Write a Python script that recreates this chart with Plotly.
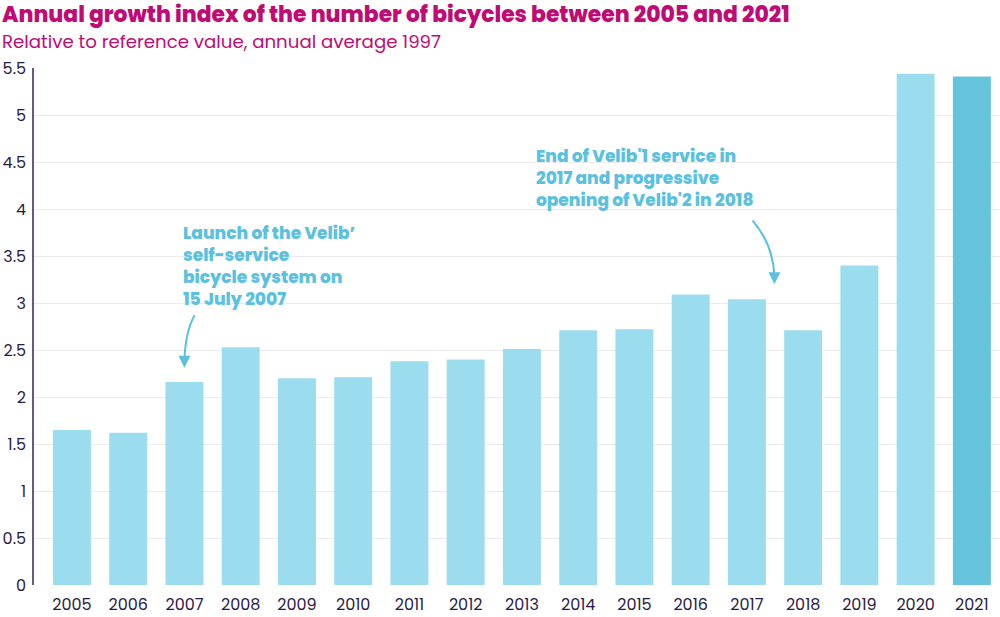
import plotly.graph_objects as go

years = list(range(2005, 2022))
values = [1.65, 1.62, 2.16, 2.53, 2.20, 2.21, 2.38, 2.40, 2.51, 2.71, 2.72, 3.09, 3.04, 2.71, 3.40, 5.44, 5.41]
bar_colors = ["#9bddef"] * 16 + ["#66c3dc"]
y_ticks = [0, 0.5, 1, 1.5, 2, 2.5, 3, 3.5, 4, 4.5, 5, 5.5]
y_ticklabels = ["0", "0.5", "1", "1.5", "2", "2.5", "3", "3.5", "4", "4.5", "5", "5.5"]

TITLE = "Annual growth index of the number of bicycles between 2005 and 2021"
SUBTITLE = "Relative to reference value, annual average 1997"
NOTE1 = "Launch of the Velib’<br>self-service<br>bicycle system on<br>15 July 2007"
NOTE2 = "End of Velib'1 service in<br>2017 and progressive<br>opening of Velib'2 in 2018"

FONT = "Poppins, Inter, sans-serif"
MAGENTA = "#bf0b73"
CYAN = "#5cc1df"
DARK = "#2b1a45"

fig = go.Figure()
fig.add_trace(go.Bar(x=years, y=values, marker=dict(color=bar_colors, line=dict(width=0)),
                     width=0.675, hoverinfo="x+y"))

fig.update_layout(
    width=1000, height=617,
    margin=dict(l=34, r=0, t=68, b=32),
    plot_bgcolor="white", paper_bgcolor="white",
    showlegend=False,
    font=dict(family=FONT, color=DARK, size=16),
    xaxis=dict(range=[2004.325, 2021.5], tickmode="array", tickvals=years,
               ticktext=[str(y) for y in years], showgrid=False, zeroline=False,
               ticks="", tickfont=dict(size=16, color=DARK), ticklabelstandoff=8),
    yaxis=dict(range=[0, 5.5], tickmode="array", tickvals=y_ticks, ticktext=y_ticklabels,
               showgrid=True, gridcolor="#ebebeb", gridwidth=1, zeroline=False,
               showline=True, linecolor="#6b5a80", linewidth=1.5,
               ticks="", tickfont=dict(size=16, color=DARK), ticklabelstandoff=3),
)

fig.add_annotation(text=TITLE, xref="paper", yref="paper", x=-34/966, y=(585-14.5)/517,
                   xanchor="left", yanchor="middle", showarrow=False,
                   font=dict(family=FONT, size=21.8, color=MAGENTA, weight=800))
fig.add_annotation(text=SUBTITLE, xref="paper", yref="paper", x=-34/966, y=(585-41.5)/517,
                   xanchor="left", yanchor="middle", showarrow=False,
                   font=dict(family=FONT, size=18.2, color=MAGENTA))

fig.add_annotation(text=NOTE1, x=2006.93, y=3.39, xanchor="left", yanchor="middle",
                   align="left", showarrow=False,
                   font=dict(family=FONT, size=17, color=CYAN, weight=800))
fig.add_annotation(text=NOTE2, x=2013.22, y=4.33, xanchor="left", yanchor="middle",
                   align="left", showarrow=False,
                   font=dict(family=FONT, size=17, color=CYAN, weight=800))

# curved arrows
fig.add_shape(type="path", xref="x", yref="y",
              path="M 2007.18,2.87 Q 2007.02,2.70 2007.0,2.40",
              line=dict(color=CYAN, width=2))
fig.add_annotation(x=2007.0, y=2.31, ax=0, ay=-12, axref="pixel", ayref="pixel",
                   showarrow=True, arrowhead=2, arrowsize=1.2, arrowwidth=2, arrowcolor=CYAN, text="")
fig.add_shape(type="path", xref="x", yref="y",
              path="M 2017.10,3.88 Q 2017.47,3.62 2017.49,3.28",
              line=dict(color=CYAN, width=2))
fig.add_annotation(x=2017.49, y=3.20, ax=0, ay=-12, axref="pixel", ayref="pixel",
                   showarrow=True, arrowhead=2, arrowsize=1.2, arrowwidth=2, arrowcolor=CYAN, text="")

fig.write_html("out.html")
